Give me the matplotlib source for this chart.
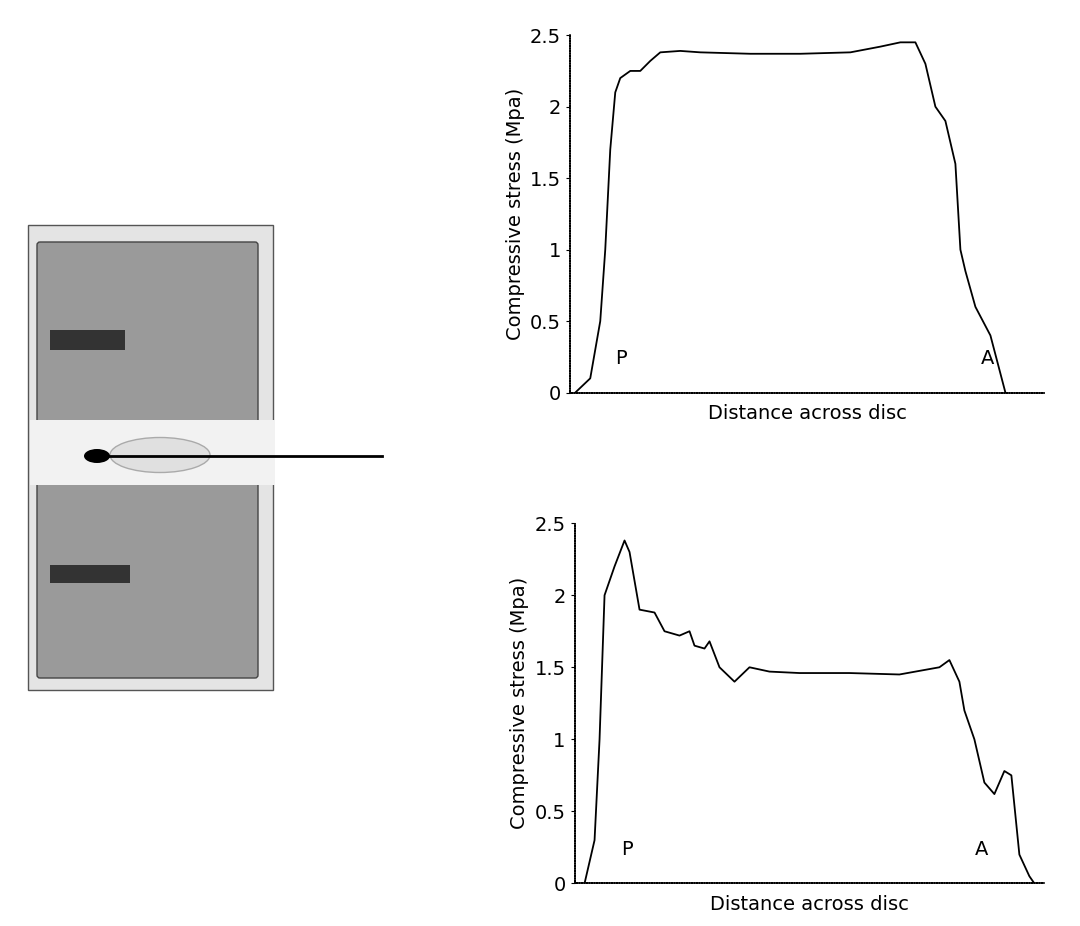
import matplotlib
matplotlib.use("Agg")
import matplotlib.pyplot as plt
from matplotlib.patches import FancyBboxPatch, Ellipse, Rectangle

top_x = [575,590,600,605,610,615,620,630,640,650,660,680,700,750,800,850,880,900,915,925,935,945,955,960,965,975,990,1005]
top_y = [0,0.1,0.5,1.0,1.7,2.1,2.2,2.25,2.25,2.32,2.38,2.39,2.38,2.37,2.37,2.38,2.42,2.45,2.45,2.3,2.0,1.9,1.6,1.0,0.85,0.6,0.4,0]
bot_x = [585,595,600,605,615,625,630,640,655,665,680,690,695,705,710,720,735,750,770,800,850,900,940,950,960,965,975,985,995,1005,1012,1020,1030,1035]
bot_y = [0,0.3,1.0,2.0,2.2,2.38,2.3,1.9,1.88,1.75,1.72,1.75,1.65,1.63,1.68,1.5,1.4,1.5,1.47,1.46,1.46,1.45,1.5,1.55,1.4,1.2,1.0,0.7,0.62,0.78,0.75,0.2,0.05,0]
yticks = [0,0.5,1,1.5,2,2.5]
ytick_labels = ["0","0.5","1","1.5","2","2.5"]

fig = plt.figure(figsize=(10.8,9.26), dpi=100)

def setup(ax, x, y, xlim):
    ax.plot(x, y, color="black", lw=1.3)
    ax.set_xlim(*xlim); ax.set_ylim(0,2.5)
    ax.set_yticks(yticks); ax.set_yticklabels(ytick_labels, fontsize=14)
    ax.set_xticks([])
    for s in ["top","right"]: ax.spines[s].set_visible(False)
    for s in ["left","bottom"]: ax.spines[s].set_linestyle((0,(1,0.5))); ax.spines[s].set_linewidth(1.2)
    ax.tick_params(axis="y", length=3)
    ax.set_ylabel("Compressive stress (Mpa)", fontsize=14)
    ax.set_xlabel("Distance across disc", fontsize=14, labelpad=8)

ax1 = fig.add_axes([0.528,0.576,0.44,0.386])
setup(ax1, top_x, top_y, (570,1045))
ax1.text(615,0.2,"P",fontsize=14); ax1.text(980,0.2,"A",fontsize=14)
ax2 = fig.add_axes([0.532,0.046,0.435,0.389])
setup(ax2, bot_x, bot_y, (575,1045))
ax2.text(622,0.2,"P",fontsize=14); ax2.text(975,0.2,"A",fontsize=14)

ill = fig.add_axes([0,0,1,1], zorder=-1); ill.set_xlim(0,1080); ill.set_ylim(926,0); ill.axis("off")
ill.add_patch(Rectangle((28,225),245,465,facecolor="#e4e4e4",edgecolor="#555",lw=1))
ill.add_patch(FancyBboxPatch((40,245),215,175,boxstyle="round,pad=3",facecolor="#9a9a9a",edgecolor="#444",lw=1))
ill.add_patch(FancyBboxPatch((40,485),215,190,boxstyle="round,pad=3",facecolor="#9a9a9a",edgecolor="#444",lw=1))
ill.add_patch(Rectangle((30,420),245,65,facecolor="#f2f2f2",edgecolor="none"))
ill.add_patch(Ellipse((160,455),100,35,facecolor="#e0e0e0",edgecolor="#aaa"))
ill.add_patch(Rectangle((50,330),75,20,facecolor="#333"))
ill.add_patch(Rectangle((50,565),80,18,facecolor="#333"))
ill.add_patch(Ellipse((97,456),26,14,facecolor="black"))
ill.plot([97,382],[456,456],color="black",lw=2)

fig.savefig("out.png", dpi=100)
